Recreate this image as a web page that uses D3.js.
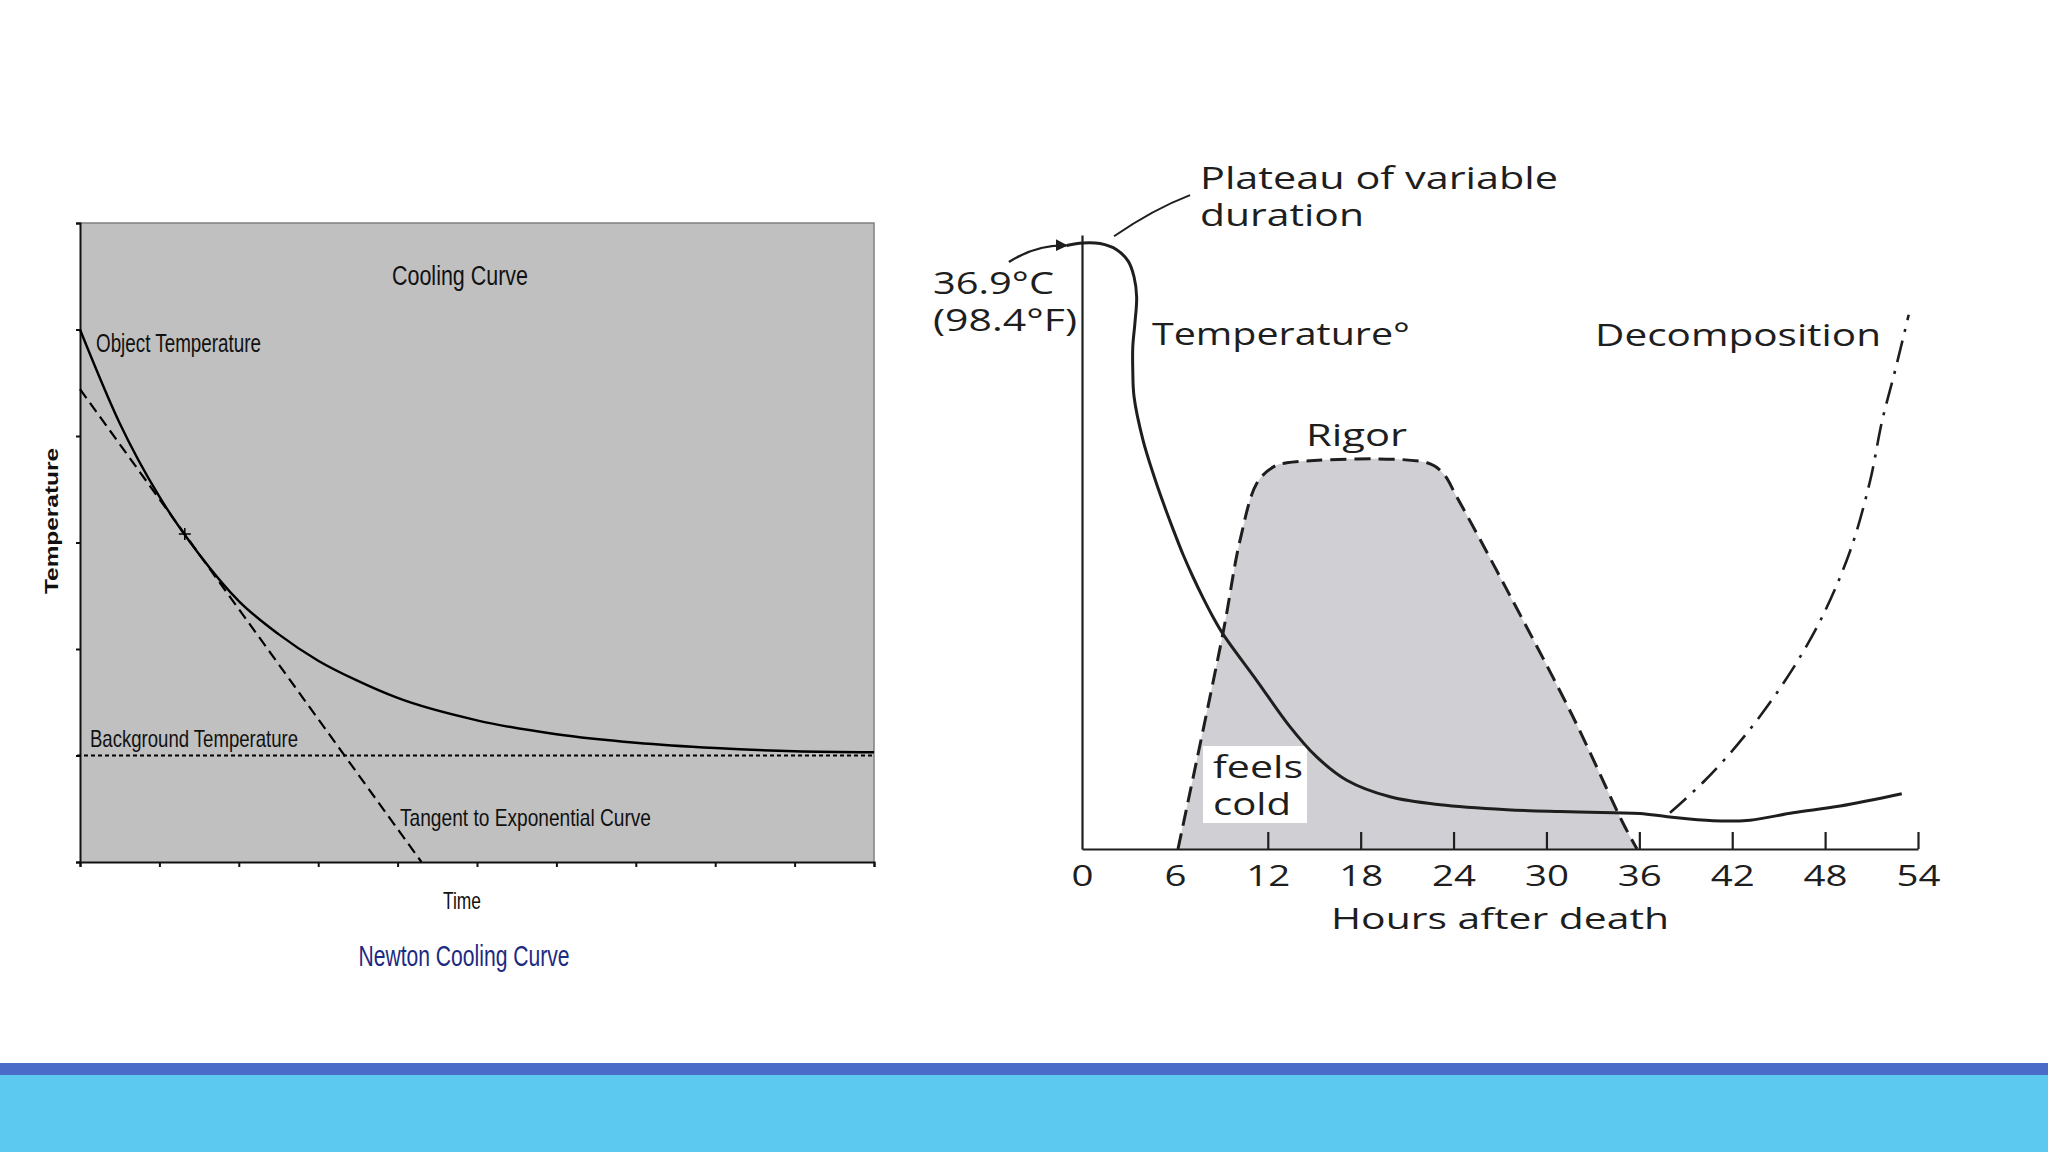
<!DOCTYPE html>
<html>
<head>
<meta charset="utf-8">
<script src="https://cdn.jsdelivr.net/npm/d3@7"></script>
<style>
  body { margin: 0; background: #fff; }
  svg { display: block; }
</style>
</head>
<body>
<div id="chart"></div>
<script>
// ---------- Left panel : Newton cooling curve (arbitrary units) ----------
const coolXTicks = [0, 1, 2, 3, 4, 5, 6, 7, 8, 9, 10];
const coolYTicks = [0, 1, 2, 3, 4, 5, 6];
const coolTime = [0, 0.5, 1, 1.5, 2, 2.5, 3, 3.5, 4, 5, 6, 7, 8, 9, 10];
const coolTemp = [5.0, 4.12, 3.43, 2.89, 2.45, 2.14, 1.89, 1.70, 1.54, 1.33, 1.20, 1.12, 1.07, 1.04, 1.03];
const backgroundTemp = 1;
const tangentTime = [0, 4.3];
const tangentTemp = [4.44, 0];
const tangentPoint = [1.32, 3.08];

// ---------- Right panel : post-mortem changes ----------
const hourTicks = [0, 6, 12, 18, 24, 30, 36, 42, 48, 54];
const tempHours = [-0.99, 0.05, 1.16, 2.24, 2.99, 3.36, 3.53, 3.42, 3.28, 3.28, 3.36, 3.94, 4.59, 5.23, 5.88, 6.52, 7.17, 7.82, 8.46, 9.11, 11.30, 13.44, 15.16, 17.10, 19.90, 23.13, 27.44, 30.88, 34.32, 36.05, 37.98, 40.76, 43.15, 45.93, 48.97, 52.95];
const tempLevel = [98.3, 98.7, 98.6, 97.6, 95.7, 93.2, 89.9, 85.7, 81.8, 78.0, 73.7, 66.6, 61.2, 56.5, 52.1, 48.0, 44.3, 40.9, 37.8, 35.0, 27.4, 19.9, 15.0, 11.2, 8.5, 7.2, 6.4, 6.1, 5.9, 5.8, 5.2, 4.6, 4.7, 5.9, 7.0, 9.0];
const rigorHours = [6.2, 9.11, 10.21, 11.30, 12.34, 13.24, 22.29, 23.32, 24.22, 27.45, 31.72, 34.95, 35.85];
const rigorLevel = [0, 35.2, 50.3, 59.6, 62.2, 62.9, 62.9, 61.2, 57.3, 42.2, 21.5, 4.2, 0];
const decompHours = [37.98, 40.25, 42.83, 45.41, 47.67, 49.61, 50.90, 51.68, 52.52, 53.40];
const decompLevel = [5.9, 11.2, 18.5, 27.4, 37.1, 48.5, 59.9, 69.7, 77.9, 87.0];

const W = 2048, H = 1152;
const svg = d3.select("#chart").append("svg")
    .attr("width", W)
    .attr("height", H)
    .style("background", "#fff");

// footer bands
svg.append("rect").attr("x", 0).attr("y", 1063).attr("width", W).attr("height", 12).attr("fill", "#4a6bc7");
svg.append("rect").attr("x", 0).attr("y", 1075).attr("width", W).attr("height", 77).attr("fill", "#5bc9f0");

// ================= LEFT =================
const narrow = "'Liberation Sans Narrow', 'Arial Narrow', 'Liberation Sans', Arial, sans-serif";
const xL = d3.scaleLinear().domain([0, 10]).range([80, 874]);
const yL = d3.scaleLinear().domain([0, 6]).range([862, 223]);
const gL = svg.append("g");

gL.append("rect")
    .attr("x", xL(0)).attr("y", yL(6))
    .attr("width", xL(10) - xL(0)).attr("height", yL(0) - yL(6))
    .attr("fill", "#c0c0c0");
// top + right frame
gL.append("path")
    .attr("d", `M${xL(0)},${yL(6)}H${xL(10)}V${yL(0)}`)
    .attr("fill", "none").attr("stroke", "#808080").attr("stroke-width", 1.5);

const axL = gL.append("g").attr("transform", `translate(${xL(0)},0)`)
    .call(d3.axisLeft(yL).tickValues(coolYTicks).tickSize(4).tickFormat(""));
const axB = gL.append("g").attr("transform", `translate(0,${yL(0)})`)
    .call(d3.axisBottom(xL).tickValues(coolXTicks).tickSize(5).tickFormat(""));
[axL, axB].forEach(a => a.selectAll("path,line").attr("stroke", "#111").attr("stroke-width", 2));

// background temperature (dotted)
gL.append("line")
    .attr("x1", xL(0) - 3).attr("x2", xL(10))
    .attr("y1", yL(backgroundTemp)).attr("y2", yL(backgroundTemp))
    .attr("stroke", "#000").attr("stroke-width", 2).attr("stroke-dasharray", "4 3");

// tangent (dashed)
gL.append("path")
    .datum(d3.zip(tangentTime, tangentTemp))
    .attr("d", d3.line().x(d => xL(d[0])).y(d => yL(d[1])))
    .attr("fill", "none").attr("stroke", "#000").attr("stroke-width", 2.2)
    .attr("stroke-dasharray", "11 6");

// object temperature curve
gL.append("path")
    .datum(d3.zip(coolTime, coolTemp))
    .attr("d", d3.line().x(d => xL(d[0])).y(d => yL(d[1])).curve(d3.curveMonotoneX))
    .attr("fill", "none").attr("stroke", "#000").attr("stroke-width", 2.4);

// tangent point marker
const tpx = xL(tangentPoint[0]), tpy = yL(tangentPoint[1]);
gL.append("path")
    .attr("d", `M${tpx - 6},${tpy}H${tpx + 6}M${tpx},${tpy - 6}V${tpy + 6}`)
    .attr("stroke", "#000").attr("stroke-width", 1.5);

function lText(g, str, x, y, size, len, opts = {}) {
    const t = g.append("text")
        .attr("x", x).attr("y", y)
        .attr("font-family", narrow)
        .attr("font-size", size)
        .attr("fill", opts.fill || "#111")
        .attr("text-anchor", opts.anchor || "start")
        .attr("font-weight", opts.weight || "normal")
        .attr("textLength", len)
        .attr("lengthAdjust", "spacingAndGlyphs")
        .text(str);
    if (opts.transform) t.attr("transform", opts.transform);
    return t;
}
lText(gL, "Cooling Curve", 460, 285, 27, 136, { anchor: "middle" });
lText(gL, "Object Temperature", 96, 352, 25, 165);
lText(gL, "Background Temperature", 90, 747, 24, 208);
lText(gL, "Tangent to Exponential Curve", 400, 826, 24, 251);
lText(gL, "Time", 462, 909, 24, 38, { anchor: "middle" });
lText(gL, "Newton Cooling Curve", 464, 966, 29, 211, { anchor: "middle", fill: "#1d2a82" });
lText(gL, "Temperature", 0, 0, 19, 146, { anchor: "middle", weight: "bold", transform: "translate(58,521) rotate(-90)" });

// ================= RIGHT =================
const sans = "'Open Sans', 'Noto Sans', 'DejaVu Sans', sans-serif";
const xR = d3.scaleLinear().domain([0, 54]).range([1082, 1918]);
const yR = d3.scaleLinear().domain([0, 100]).range([849, 235]);
const gR = svg.append("g");
const ink = "#1e1e1e";

// rigor area
const rigorPts = d3.zip(rigorHours, rigorLevel);
const rigorLine = d3.line().x(d => xR(d[0])).y(d => yR(d[1])).curve(d3.curveCatmullRom.alpha(0.5));
gR.append("path")
    .datum(rigorPts)
    .attr("d", rigorLine)
    .attr("fill", "#d0d0d4").attr("stroke", "none");
gR.append("path")
    .datum(rigorPts)
    .attr("d", rigorLine)
    .attr("fill", "none").attr("stroke", ink).attr("stroke-width", 3)
    .attr("stroke-dasharray", "16 8");

// "feels cold" box
gR.append("rect").attr("x", 1203).attr("y", 746).attr("width", 104).attr("height", 77).attr("fill", "#fff");

// axes
const axRB = gR.append("g").attr("transform", `translate(0,${yR(0)})`)
    .call(d3.axisBottom(xR).tickValues(hourTicks).tickSize(-17).tickSizeOuter(0).tickPadding(16));
const axRL = gR.append("g").attr("transform", `translate(${xR(0)},0)`)
    .call(d3.axisLeft(yR).tickValues([]).tickSizeOuter(0));
[axRB, axRL].forEach(a => a.selectAll("path,line").attr("stroke", ink).attr("stroke-width", 2.2));
axRB.selectAll(".tick").filter(d => d === 0 || d === 6).select("line").remove();
axRB.selectAll("text")
    .attr("font-family", sans).attr("font-size", 30).attr("fill", ink)
    .attr("textLength", d => String(d).length * 22)
    .attr("lengthAdjust", "spacingAndGlyphs");

// decomposition (dash-dot)
gR.append("path")
    .datum(d3.zip(decompHours, decompLevel))
    .attr("d", d3.line().x(d => xR(d[0])).y(d => yR(d[1])).curve(d3.curveCatmullRom.alpha(0.5)))
    .attr("fill", "none").attr("stroke", ink).attr("stroke-width", 2.6)
    .attr("stroke-dasharray", "22 9 3 9");

// temperature curve
gR.append("path")
    .datum(d3.zip(tempHours, tempLevel))
    .attr("d", d3.line().x(d => xR(d[0])).y(d => yR(d[1])).curve(d3.curveCatmullRom.alpha(0.5)))
    .attr("fill", "none").attr("stroke", ink).attr("stroke-width", 3);

// arrow to 36.9°C
svg.append("defs").append("marker")
    .attr("id", "arrow").attr("viewBox", "0 0 10 10")
    .attr("refX", 9).attr("refY", 5)
    .attr("markerWidth", 5).attr("markerHeight", 5)
    .attr("orient", "auto").attr("markerUnits", "strokeWidth")
    .append("path").attr("d", "M0,0L10,5L0,10z").attr("fill", ink);
gR.append("path")
    .attr("d", `M${xR(-4.72)},${yR(95.6)}Q${xR(-3.0)},${yR(98.4)} ${xR(-1.0)},${yR(98.3)}`)
    .attr("fill", "none").attr("stroke", ink).attr("stroke-width", 2.4)
    .attr("marker-end", "url(#arrow)");

// plateau leader
gR.append("path")
    .attr("d", `M${xR(2.07)},${yR(99.8)}Q${xR(4.6)},${yR(104.2)} ${xR(6.98)},${yR(106.5)}`)
    .attr("fill", "none").attr("stroke", ink).attr("stroke-width", 2);

function rText(str, x, y, size, len) {
    return gR.append("text")
        .attr("x", x).attr("y", y)
        .attr("font-family", sans).attr("font-size", size).attr("fill", ink)
        .attr("textLength", len).attr("lengthAdjust", "spacingAndGlyphs")
        .text(str);
}
rText("Plateau of variable", 1200, 189, 31, 358);
rText("duration", 1200, 226, 31, 164);
rText("36.9°C", 933, 294, 31, 121);
rText("(98.4°F)", 933, 331, 31, 144);
rText("Temperature°", 1152, 345, 31, 258);
rText("Decomposition", 1595, 346, 31, 286);
rText("Rigor", 1306, 446, 31, 101);
rText("feels", 1213, 778, 31, 90);
rText("cold", 1213, 815, 31, 78);
rText("Hours after death", 1331, 929, 30, 338);
</script>
</body>
</html>
